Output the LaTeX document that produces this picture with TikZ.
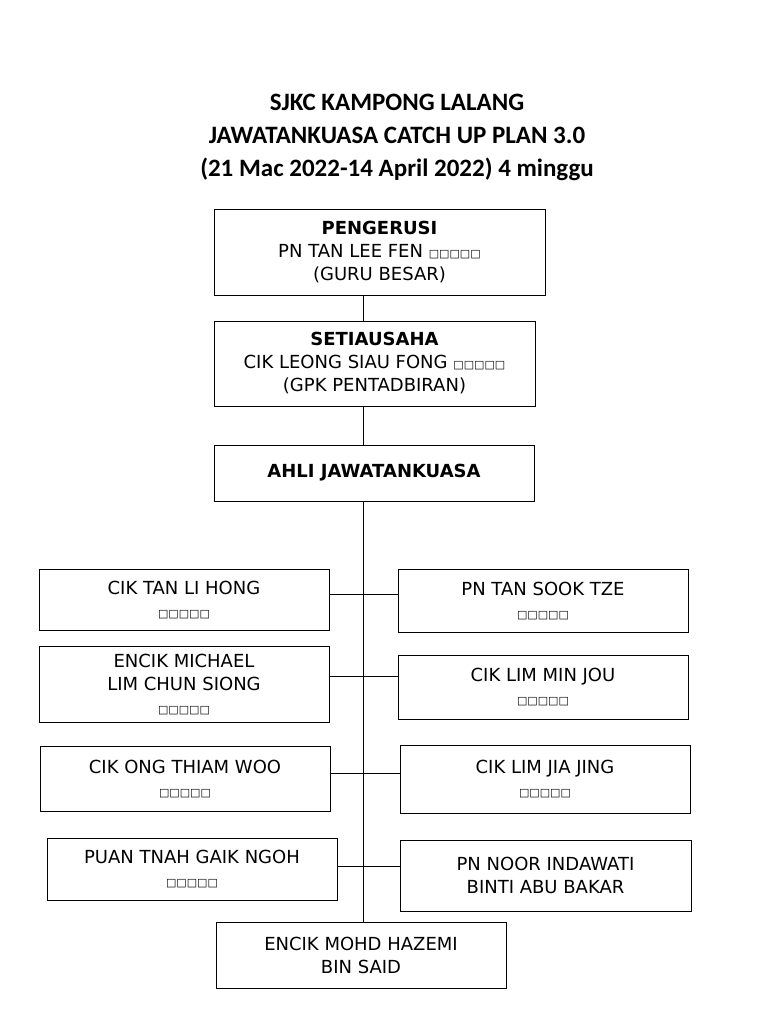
\documentclass[tikz,border=0pt]{standalone}
\usepackage{fontspec}
\setmainfont{DejaVu Sans}
\newfontfamily\titlefont{Carlito}
\newcommand{\bxs}{{\fontsize{11}{12}\selectfont □□□□□}}
\begin{document}
\begin{tikzpicture}[x=1pt,y=-1pt,
  bx/.style={draw,line width=0.8pt,inner sep=0pt,font=\fontsize{18}{23}\selectfont,align=center},
  ln/.style={line width=0.8pt}]
\useasboundingbox (0,0) rectangle (768,1024);
\node[font=\titlefont\bfseries\fontsize{25}{33}\selectfont,align=center] (title) at (397,137)
 {SJKC KAMPONG LALANG\\JAWATANKUASA CATCH UP PLAN 3.0\\(21 Mac 2022-14 April 2022) 4 minggu};
\node[bx,minimum width=331,minimum height=86] (p) at (379.5,252) {\textbf{PENGERUSI}\\PN TAN LEE FEN \bxs\\(GURU BESAR)};
\node[bx,minimum width=321,minimum height=85] (s) at (374.5,363.5) {\textbf{SETIAUSAHA}\\CIK LEONG SIAU FONG \bxs\\(GPK PENTADBIRAN)};
\node[bx,minimum width=320,minimum height=56] (a) at (374,473) {\textbf{AHLI JAWATANKUASA}};
\node[bx,minimum width=290,minimum height=61] (l1) at (184,599.5) {CIK TAN LI HONG\\\bxs};
\node[bx,minimum width=290,minimum height=76] (l2) at (184,684) {ENCIK MICHAEL\\LIM CHUN SIONG\\\bxs};
\node[bx,minimum width=290,minimum height=65] (l3) at (185,778.5) {CIK ONG THIAM WOO\\\bxs};
\node[bx,minimum width=290,minimum height=62] (l4) at (192,869) {PUAN TNAH GAIK NGOH\\\bxs};
\node[bx,minimum width=290,minimum height=63] (r1) at (543,600.5) {PN TAN SOOK TZE\\\bxs};
\node[bx,minimum width=290,minimum height=64] (r2) at (543,687) {CIK LIM MIN JOU\\\bxs};
\node[bx,minimum width=290,minimum height=68] (r3) at (545,779) {CIK LIM JIA JING\\\bxs};
\node[bx,minimum width=291,minimum height=71] (r4) at (545.5,875.5) {PN NOOR INDAWATI\\BINTI ABU BAKAR};
\node[bx,minimum width=290,minimum height=66] (b) at (361,955) {ENCIK MOHD HAZEMI\\BIN SAID};
\coordinate (vx) at (363,0);
\draw[ln] (p.south -| vx) -- (s.north -| vx);
\draw[ln] (s.south -| vx) -- (a.north -| vx);
\draw[ln] (a.south -| vx) -- (b.north -| vx);
\draw[ln] (l1.east |- 0,594) -- (r1.west |- 0,594);
\draw[ln] (l2.east |- 0,676) -- (r2.west |- 0,676);
\draw[ln] (l3.east |- 0,773) -- (r3.west |- 0,773);
\draw[ln] (l4.east |- 0,866) -- (r4.west |- 0,866);
\end{tikzpicture}
\end{document}
